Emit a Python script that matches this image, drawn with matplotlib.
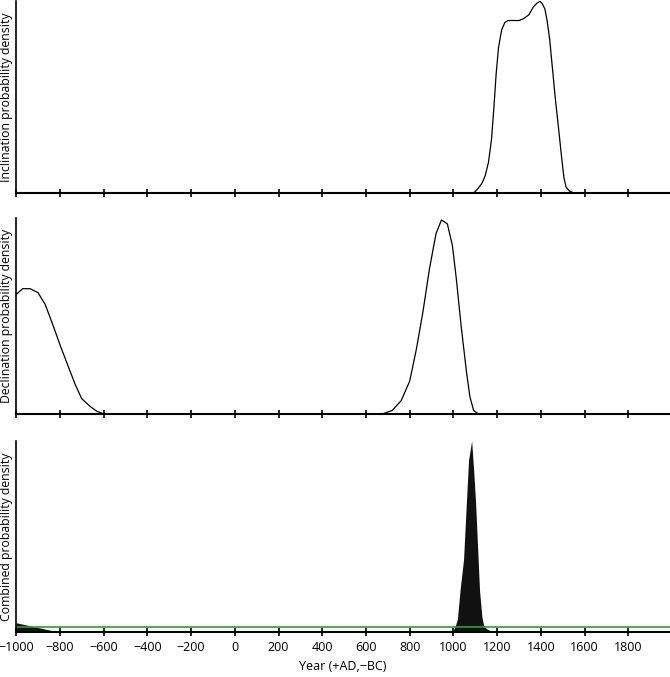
import matplotlib
matplotlib.use("Agg")
import matplotlib.pyplot as plt
import numpy as np

plt.rcParams['font.family'] = ['Open Sans', 'DejaVu Sans']

# Inclination density (normalised)
incl_year = [1092, 1110, 1130, 1145, 1160, 1174, 1185, 1195, 1206, 1220, 1235, 1250, 1275, 1300, 1321, 1345, 1365, 1381, 1395, 1405, 1418, 1428, 1440, 1450, 1465, 1482, 1495, 1505, 1515, 1530, 1550]
incl_dens = [0.0, 0.02, 0.05, 0.09, 0.16, 0.28, 0.45, 0.62, 0.76, 0.85, 0.89, 0.90, 0.90, 0.90, 0.91, 0.93, 0.97, 0.99, 1.0, 0.99, 0.96, 0.90, 0.80, 0.68, 0.50, 0.32, 0.18, 0.08, 0.03, 0.01, 0.0]

# Declination density (normalised)
decl_year = [-1000, -970, -936, -900, -867, -830, -798, -760, -729, -700, -661, -630, -592, 670, 720, 761, 800, 830, 860, 890, 920, 945, 972, 995, 1013, 1035, 1059, 1075, 1092, 1110, 1128]
decl_dens = [0.61, 0.64, 0.64, 0.62, 0.56, 0.45, 0.35, 0.24, 0.15, 0.08, 0.04, 0.015, 0.0, 0.0, 0.02, 0.07, 0.17, 0.33, 0.52, 0.74, 0.92, 0.99, 0.97, 0.86, 0.69, 0.45, 0.22, 0.09, 0.02, 0.005, 0.0]

# Combined density
comb_year = [-1000, -800, 995, 1010, 1018, 1030, 1046, 1060, 1069, 1083, 1092, 1101, 1110, 1119, 1130, 1138, 1150, 1165, 1179]
comb_dens = [0.05, 0.0, 0.0, 0.04, 0.07, 0.22, 0.38, 0.70, 0.90, 1.0, 0.85, 0.68, 0.45, 0.22, 0.08, 0.035, 0.02, 0.01, 0.0]
threshold = 0.026

ticks = list(range(-1000, 2000, 200))
labels = [f"\u2212{-t}" if t < 0 else str(t) for t in ticks]

fig = plt.figure(figsize=(6.70, 6.77), dpi=100)
rects = [[0.024, 0.715, 0.976, 0.283], [0.024, 0.388, 0.976, 0.29], [0.024, 0.066, 0.976, 0.283]]
axes = [fig.add_axes(r) for r in rects]
xmax = 1990

def style(ax, ylabel):
    ax.set_xlim(-1000, xmax)
    ax.set_ylim(0, 1.0)
    for s in ['top', 'right']:
        ax.spines[s].set_visible(False)
    ax.spines['left'].set_linewidth(1.2)
    ax.spines['bottom'].set_linewidth(1.5)
    ax.set_yticks([])
    ax.set_xticks(ticks)
    ax.tick_params(axis='x', direction='inout', length=6, width=1.2, labelsize=9)
    ax.set_ylabel(ylabel, fontsize=8.8, labelpad=2)

ax1, ax2, ax3 = axes
style(ax1, "Inclination probability density")
ax1.plot(incl_year, incl_dens, color='black', lw=0.9)
ax1.set_xticklabels([])

style(ax2, "Declination probability density")
ax2.plot(decl_year[:13], decl_dens[:13], color='black', lw=0.9)
ax2.plot(decl_year[13:], decl_dens[13:], color='black', lw=0.9)
ax2.set_xticklabels([])

style(ax3, "Combined probability density")
ax3.fill_between(comb_year[:2], comb_dens[:2], color='#111111', lw=0)
ax3.fill_between(comb_year[2:], comb_dens[2:], color='#111111', lw=0)
ax3.axhline(threshold, color='#2ca02c', lw=1.2)
ax3.set_xticklabels(labels)
ax3.set_xlabel("Year (+AD,\u2212BC)", fontsize=9, labelpad=4)

fig.savefig("out.png", dpi=100)
